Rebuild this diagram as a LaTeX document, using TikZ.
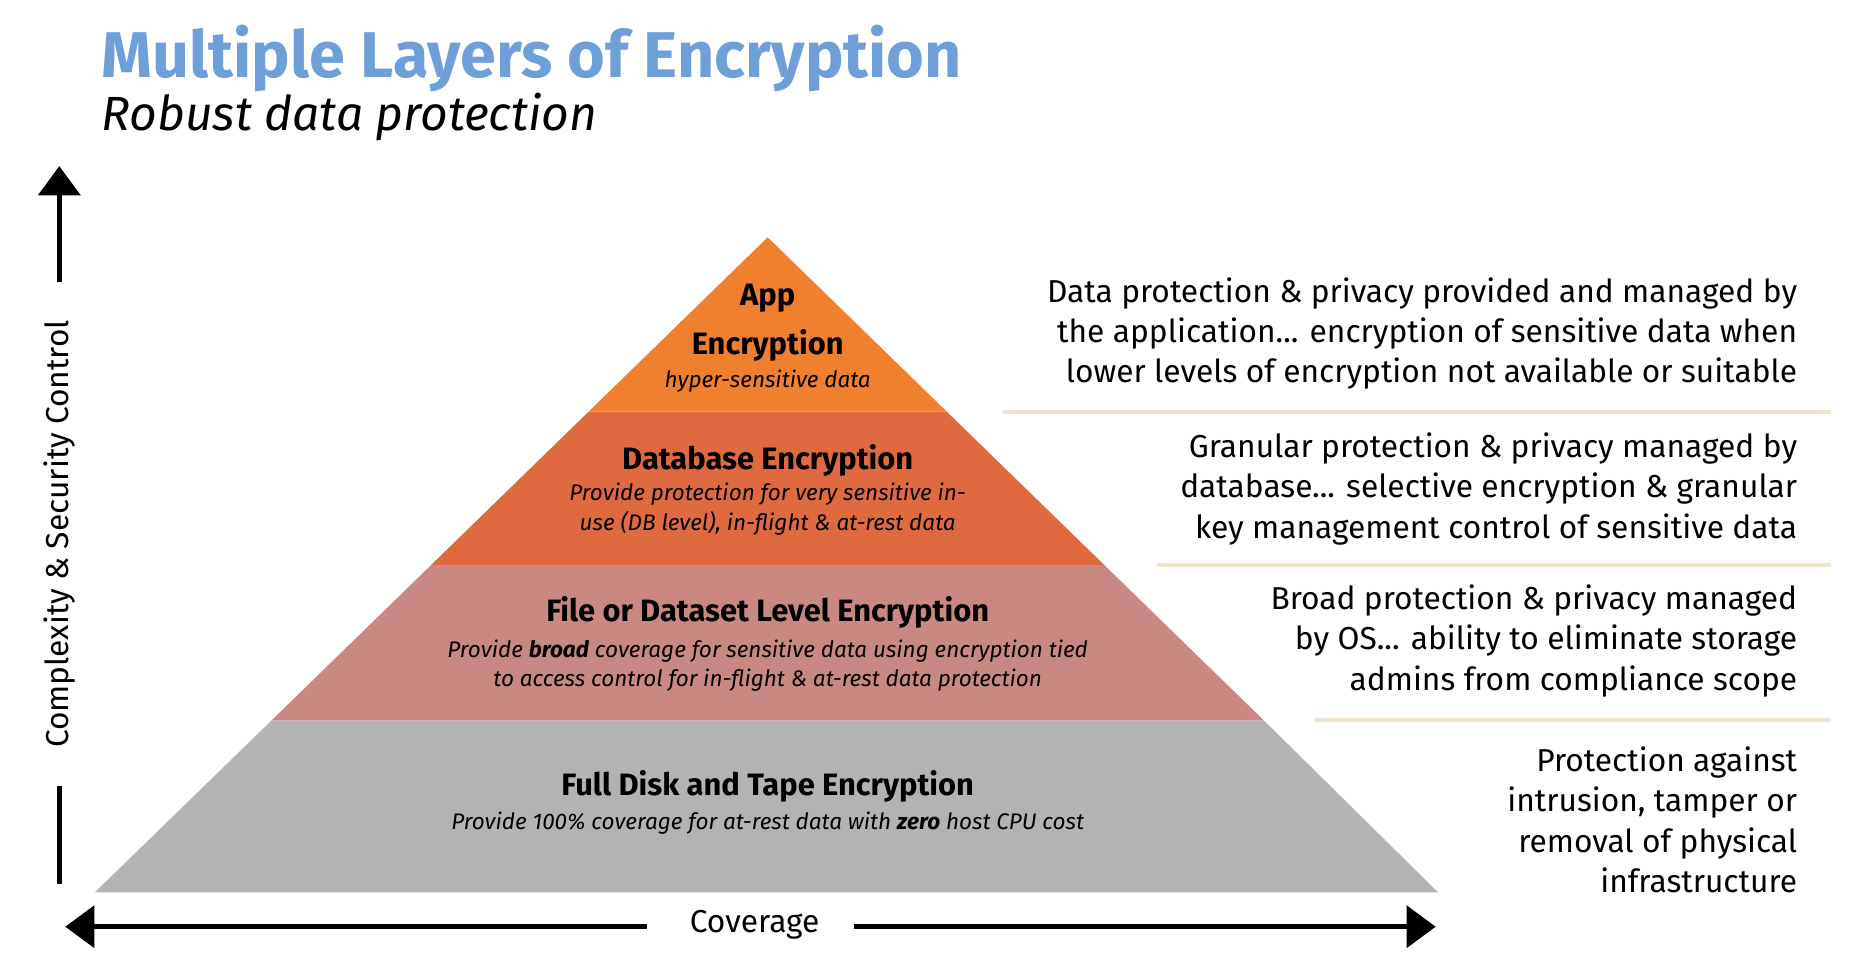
\documentclass[tikz,border=0pt]{standalone}
\usepackage{fontspec}
\setmainfont{Fira Sans}
\usetikzlibrary{arrows.meta}
\definecolor{ttl}{HTML}{6F9FD8}
\definecolor{c1}{HTML}{F07F2E}
\definecolor{c2}{HTML}{E06A40}
\definecolor{c3}{HTML}{C98882}
\definecolor{c4}{HTML}{B3B3B3}
\definecolor{sep}{HTML}{F2E3CF}
\newcommand{\fs}[2]{\fontsize{#1}{#2}\selectfont}
\begin{document}
\begin{tikzpicture}[x=0.01cm,y=-0.01cm,
  rt/.style={align=right,anchor=east,font=\fs{7.6}{9.67}},
  hd/.style={font=\bfseries\fs{7.4}{9.4},inner sep=0},
  ds/.style={font=\itshape\fs{5.4}{7.1},align=center,inner sep=0},
  ax/.style={line width=1.2pt},
  tip/.style={-{Triangle[length=7pt,width=10pt]}},
  sepl/.style={draw=sep,line width=0.9pt}]
\useasboundingbox (0,0) rectangle (1560,823);
% title
\node[anchor=base west,inner sep=0,text=ttl,font=\bfseries\fs{15.5}{18}] (title) at (85,65) {Multiple Layers of Encryption};
\node[anchor=base west,inner sep=0,font=\itshape\fs{11.5}{14}] (sub) at (85,110) {Robust data protection};
% pyramid
\coordinate (apex) at (647,200);
\fill[c4] (229,607) -- (1065,607) -- (1212,752) -- (80,752) -- cycle;
\fill[c3] (363.5,476) -- (930.5,476) -- (1065,607) -- (229,607) -- cycle;
\fill[c2] (496,347) -- (798,347) -- (930.5,476) -- (363.5,476) -- cycle;
\fill[c1] (apex) -- (798,347) -- (496,347) -- cycle;
% pyramid text
\node[hd,align=center] (appt) at (647,272) {App\\[2.2pt]Encryption};
\node[ds] (appd) at (647,321) {hyper-sensitive data};
\node[hd] (dbt) at (647,388) {Database Encryption};
\node[ds] (dbd) at (647,429) {Provide protection for very sensitive in-\\use (DB level), in-flight \& at-rest data};
\node[hd] (fit) at (647,516) {File or Dataset Level Encryption};
\node[ds] (fid) at (647,561) {Provide \textbf{broad} coverage for sensitive data using encryption tied\\to access control for in-flight \& at-rest data protection};
\node[hd] (fdt) at (647,663) {Full Disk and Tape Encryption};
\node[ds] (fdd) at (647,694) {Provide 100\% coverage for at-rest data with \textbf{zero} host CPU cost};
% right texts
\node[rt] (r1) at (1527,281) {Data protection \& privacy provided and managed by\\the application... encryption of sensitive data when\\lower levels of encryption not available or suitable};
\node[rt] (r2) at (1527,412) {Granular protection \& privacy managed by\\database... selective encryption \& granular\\key management control of sensitive data};
\node[rt] (r3) at (1527,540) {Broad protection \& privacy managed\\by OS... ability to eliminate storage\\admins from compliance scope};
\node[rt] (r4) at (1527,691) {Protection against\\intrusion, tamper or\\removal of physical\\infrastructure};
\draw[sepl] (845,347) -- (1543,347);
\draw[sepl] (975,476) -- (1543,476);
\draw[sepl] (1108,607) -- (1543,607);
% vertical axis
\node[rotate=90,font=\fs{7.6}{9},inner sep=0] (vlab) at (50,450) {Complexity \& Security Control};
\coordinate (vb) at (50,745);
\coordinate (vt) at (50,140);
\coordinate (vl1) at (50,662);
\coordinate (vl2) at (50,238);
\draw[ax] (vb) -- (vl1);
\draw[ax,tip] (vl2) -- (vt);
% horizontal axis
\node[font=\fs{7.6}{9},inner sep=0] (hlab) at (636,779) {Coverage};
\coordinate (hl) at (55,781);
\coordinate (hr) at (1210,781);
\coordinate (hg1) at (545,781);
\coordinate (hg2) at (720,781);
\draw[ax,tip] (hg1) -- (hl);
\draw[ax,tip] (hg2) -- (hr);
\end{tikzpicture}
\end{document}
